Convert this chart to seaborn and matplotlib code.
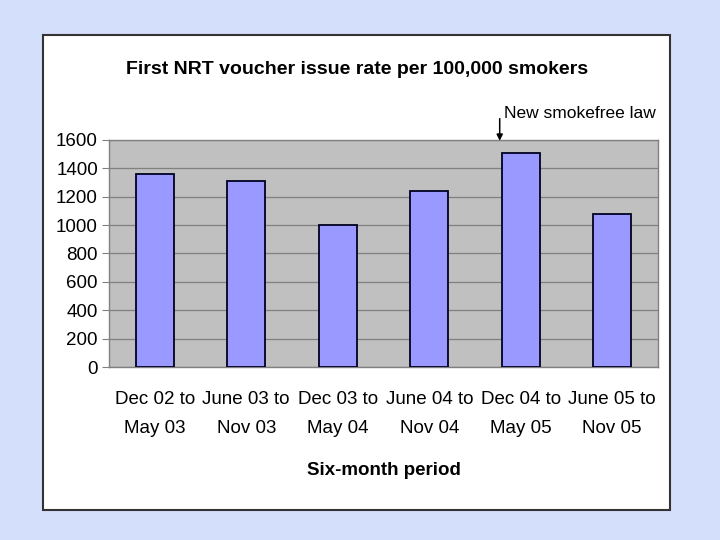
import matplotlib
matplotlib.use("Agg")
import matplotlib.pyplot as plt
import seaborn as sns
import pandas as pd
from matplotlib.patches import Rectangle

periods = ["Dec 02 to\nMay 03", "June 03 to\nNov 03", "Dec 03 to\nMay 04",
           "June 04 to\nNov 04", "Dec 04 to\nMay 05", "June 05 to\nNov 05"]
rates = [1360, 1310, 1000, 1240, 1510, 1075]
yticks = [0, 200, 400, 600, 800, 1000, 1200, 1400, 1600]

df = pd.DataFrame({"period": periods, "rate": rates})

sns.set_theme(style="white")
FONT = ["Liberation Sans", "DejaVu Sans"]
plt.rcParams["font.family"] = FONT

fig = plt.figure(figsize=(7.2, 5.4), dpi=100)
fig.patch.set_facecolor("#D4DFFC")
panel = Rectangle((43 / 720, 1 - 510 / 540), (670 - 43) / 720, (510 - 35) / 540,
                  transform=fig.transFigure, facecolor="white", edgecolor="#333333",
                  linewidth=1.5, zorder=-5)
fig.patches.append(panel)

ax = fig.add_axes([109 / 720, 1 - 367 / 540, (658 - 109) / 720, (367 - 140) / 540])
ax.set_zorder(2)
ax.set_facecolor("#C0C0C0")

sns.barplot(data=df, x="period", y="rate", color="#9999FF", edgecolor="#000022",
            linewidth=1.3, width=0.42, saturation=1, ax=ax, zorder=3)

ax.set_ylim(0, 1600)
ax.set_yticks(yticks)
ax.set_yticklabels([str(v) for v in yticks], fontsize=13.5, color="black")
ax.set_xlim(-0.5, len(periods) - 0.5)
ax.yaxis.grid(True, color="#808080", linewidth=0.9, zorder=1)
ax.set_axisbelow(True)
for s in ax.spines.values():
    s.set_color("#808080")
    s.set_linewidth(1)

ax.tick_params(axis="y", length=5, width=0.8, color="#808080", pad=3, left=True)
ax.set_xticks(range(len(periods)))
ax.set_xticklabels(periods, fontsize=13.5, linespacing=1.95, color="black")
ax.tick_params(axis="x", length=0, pad=17)
ax.set_xticks([i - 0.5 for i in range(len(periods) + 1)], minor=True)
ax.tick_params(axis="x", which="minor", length=5, width=0.8, color="#808080")

ax.set_ylabel("")
ax.set_xlabel("Six-month period", fontsize=13.5, fontweight="bold", labelpad=18,
              color="black")

fig.text(357 / 720, 1 - 69 / 540, "First NRT voucher issue rate per 100,000 smokers",
         ha="center", va="center", fontsize=14, fontweight="bold", color="black")

ax.annotate("", xy=(3.77, 1575), xytext=(3.77, 1770), xycoords="data",
            arrowprops=dict(arrowstyle="-|>", color="black", lw=1.1, mutation_scale=9),
            annotation_clip=False)
ax.text(3.82, 1790, "New smokefree law", fontsize=12.5, ha="left", va="center",
        color="black")

fig.savefig("out.png", dpi=100, facecolor=fig.get_facecolor())
